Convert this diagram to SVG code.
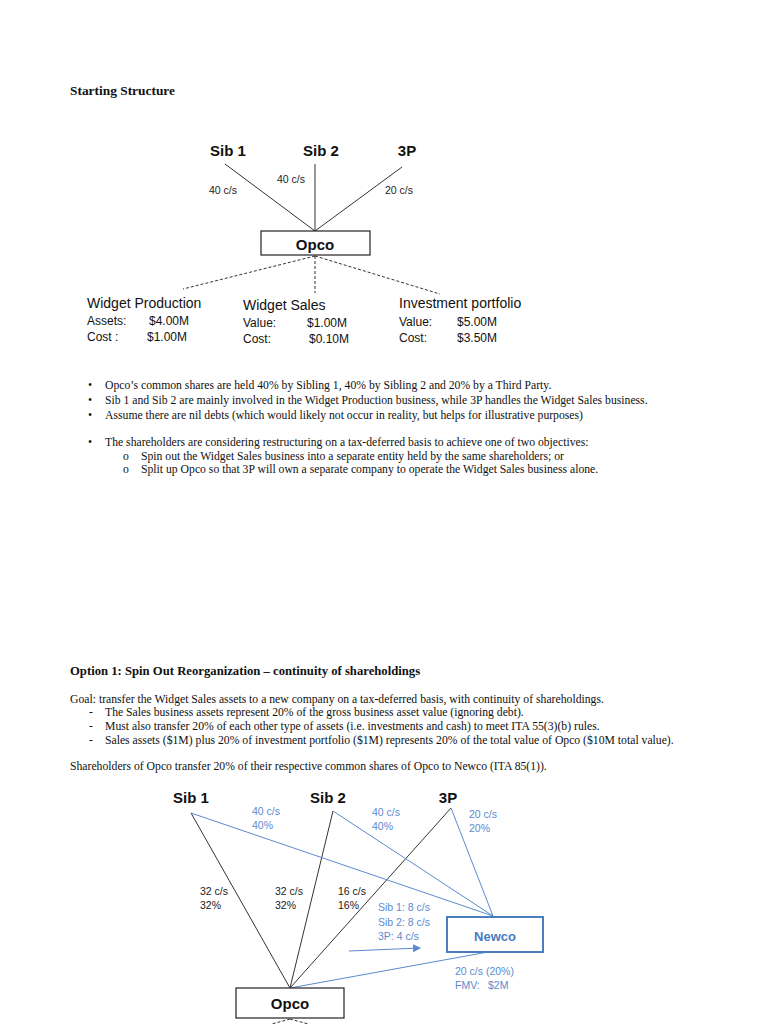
<svg xmlns="http://www.w3.org/2000/svg" width="768" height="1024" viewBox="0 0 768 1024">
<defs>
<style>
.serif{font-family:"Liberation Serif","Times New Roman",serif;font-size:11.7px;fill:#111}
.head{font-family:"Liberation Serif","Times New Roman",serif;font-size:12.7px;font-weight:bold;fill:#111}
.node{font-family:"Liberation Sans",Arial,sans-serif;font-size:15px;font-weight:bold;fill:#111}
.lbl{font-family:"Liberation Sans",Arial,sans-serif;font-size:10.5px;fill:#222}
.blbl{font-family:"Liberation Sans",Arial,sans-serif;font-size:10.5px;fill:#5B8BD0}
.asset{font-family:"Liberation Sans",Arial,sans-serif;font-size:14px;fill:#111}
.val{font-family:"Liberation Sans",Arial,sans-serif;font-size:12px;fill:#111}
.ln{stroke:#333;stroke-width:1;fill:none}
.bln{stroke:#5B8BD0;stroke-width:1;fill:none}
.dash{stroke:#333;stroke-width:1;fill:none;stroke-dasharray:3,2}
.box{fill:#fff;stroke:#222;stroke-width:1.2}
</style>
<marker id="arr" markerWidth="8" markerHeight="8" refX="7" refY="4" orient="auto" markerUnits="userSpaceOnUse">
<path d="M0,0 L8,4 L0,8 z" fill="#5B8BD0"/>
</marker>
</defs>
<rect width="768" height="1024" fill="#fff"/>

<text class="head" x="70" y="95" style="font-size:13.4px">Starting Structure</text>

<g id="connectors-top">
<line class="ln" x1="225" y1="164" x2="315" y2="231"/>
<line class="ln" x1="315" y1="164" x2="315" y2="231"/>
<line class="ln" x1="402" y1="167" x2="315" y2="231"/>
<line class="dash" x1="315" y1="256" x2="183" y2="289"/>
<line class="dash" x1="315" y1="256" x2="315" y2="293"/>
<line class="dash" x1="315" y1="256" x2="440" y2="294"/>
<text class="lbl" x="209" y="194">40 c/s</text>
<text class="lbl" x="277" y="183">40 c/s</text>
<text class="lbl" x="385" y="194">20 c/s</text>
</g>

<g id="sib1-top"><text class="node" x="228" y="156" text-anchor="middle">Sib 1</text></g>
<g id="sib2-top"><text class="node" x="321" y="156" text-anchor="middle">Sib 2</text></g>
<g id="3p-top"><text class="node" x="407" y="156" text-anchor="middle">3P</text></g>
<g id="opco-top">
<rect class="box" x="261" y="231" width="109" height="24"/>
<text class="node" x="315" y="250" text-anchor="middle">Opco</text>
</g>

<g id="widget-production">
<text class="asset" x="87" y="308">Widget Production</text>
<text class="val" x="87" y="325">Assets:</text><text class="val" x="149" y="325">$4.00M</text>
<text class="val" x="87" y="341">Cost :</text><text class="val" x="147" y="341">$1.00M</text>
</g>
<g id="widget-sales">
<text class="asset" x="243" y="310">Widget Sales</text>
<text class="val" x="243" y="327">Value:</text><text class="val" x="307" y="327">$1.00M</text>
<text class="val" x="243" y="343">Cost:</text><text class="val" x="309" y="343">$0.10M</text>
</g>
<g id="investment-portfolio">
<text class="asset" x="399" y="308">Investment portfolio</text>
<text class="val" x="399" y="326">Value:</text><text class="val" x="457" y="326">$5.00M</text>
<text class="val" x="399" y="342">Cost:</text><text class="val" x="457" y="342">$3.50M</text>
</g>

<g id="bullets">
<text class="serif" x="88" y="389">•</text>
<text class="serif" x="105" y="389">Opco’s common shares are held 40% by Sibling 1, 40% by Sibling 2 and 20% by a Third Party.</text>
<text class="serif" x="88" y="404">•</text>
<text class="serif" x="105" y="404">Sib 1 and Sib 2 are mainly involved in the Widget Production business, while 3P handles the Widget Sales business.</text>
<text class="serif" x="88" y="419">•</text>
<text class="serif" x="105" y="419">Assume there are nil debts (which would likely not occur in reality, but helps for illustrative purposes)</text>
<text class="serif" x="88" y="446">•</text>
<text class="serif" x="105" y="446">The shareholders are considering restructuring on a tax-deferred basis to achieve one of two objectives:</text>
<text class="serif" x="123" y="460">o</text>
<text class="serif" x="141" y="460">Spin out the Widget Sales business into a separate entity held by the same shareholders; or</text>
<text class="serif" x="123" y="473">o</text>
<text class="serif" x="141" y="473">Split up Opco so that 3P will own a separate company to operate the Widget Sales business alone.</text>
</g>

<text class="head" x="70" y="675">Option 1: Spin Out Reorganization – continuity of shareholdings</text>
<g id="option1-text">
<text class="serif" x="70" y="703">Goal: transfer the Widget Sales assets to a new company on a tax-deferred basis, with continuity of shareholdings.</text>
<text class="serif" x="89" y="716">-</text>
<text class="serif" x="105" y="716">The Sales business assets represent 20% of the gross business asset value (ignoring debt).</text>
<text class="serif" x="89" y="730">-</text>
<text class="serif" x="105" y="730">Must also transfer 20% of each other type of assets (i.e. investments and cash) to meet ITA 55(3)(b) rules.</text>
<text class="serif" x="89" y="744">-</text>
<text class="serif" x="105" y="744">Sales assets ($1M) plus 20% of investment portfolio ($1M) represents 20% of the total value of Opco ($10M total value).</text>
<text class="serif" x="70" y="770">Shareholders of Opco transfer 20% of their respective common shares of Opco to Newco (ITA 85(1)).</text>
</g>

<g id="connectors-bottom">
<line class="ln" x1="191" y1="813" x2="290" y2="988"/>
<line class="ln" x1="333" y1="811" x2="290" y2="988"/>
<line class="ln" x1="451" y1="808" x2="290" y2="988"/>
<line class="bln" x1="191" y1="813" x2="493" y2="916"/>
<line class="bln" x1="333" y1="811" x2="493" y2="916"/>
<line class="bln" x1="451" y1="808" x2="493" y2="916"/>
<line class="bln" x1="290" y1="988" x2="488" y2="952"/>
<line class="bln" x1="349" y1="951" x2="420" y2="948" marker-end="url(#arr)"/>
<line class="dash" x1="290" y1="1019" x2="250" y2="1030"/>
<line class="dash" x1="290" y1="1019" x2="330" y2="1030"/>
<text class="blbl" x="252" y="815">40 c/s</text>
<text class="blbl" x="252" y="829">40%</text>
<text class="blbl" x="372" y="816">40 c/s</text>
<text class="blbl" x="372" y="830">40%</text>
<text class="blbl" x="469" y="818">20 c/s</text>
<text class="blbl" x="469" y="832">20%</text>
<text class="lbl" x="200" y="895">32 c/s</text>
<text class="lbl" x="200" y="909">32%</text>
<text class="lbl" x="275" y="895">32 c/s</text>
<text class="lbl" x="275" y="909">32%</text>
<text class="lbl" x="338" y="895">16 c/s</text>
<text class="lbl" x="338" y="909">16%</text>
<text class="blbl" x="378" y="911">Sib 1: 8 c/s</text>
<text class="blbl" x="378" y="926">Sib 2: 8 c/s</text>
<text class="blbl" x="378" y="940">3P: 4 c/s</text>
<text class="blbl" x="455" y="975">20 c/s (20%)</text>
<text class="blbl" x="455" y="989">FMV:</text>
<text class="blbl" x="488" y="989">$2M</text>
</g>

<g id="sib1"><text class="node" x="191" y="803" text-anchor="middle">Sib 1</text></g>
<g id="sib2"><text class="node" x="328" y="803" text-anchor="middle">Sib 2</text></g>
<g id="3p"><text class="node" x="448" y="803" text-anchor="middle">3P</text></g>
<g id="newco">
<rect x="447" y="917" width="96" height="35" fill="#fff" stroke="#4A7CC0" stroke-width="2"/>
<text class="node" x="495" y="941" text-anchor="middle" style="fill:#4A7CC0;font-size:13px">Newco</text>
</g>
<g id="opco">
<rect class="box" x="236" y="988" width="108" height="30"/>
<text class="node" x="290" y="1009" text-anchor="middle">Opco</text>
</g>
</svg>
